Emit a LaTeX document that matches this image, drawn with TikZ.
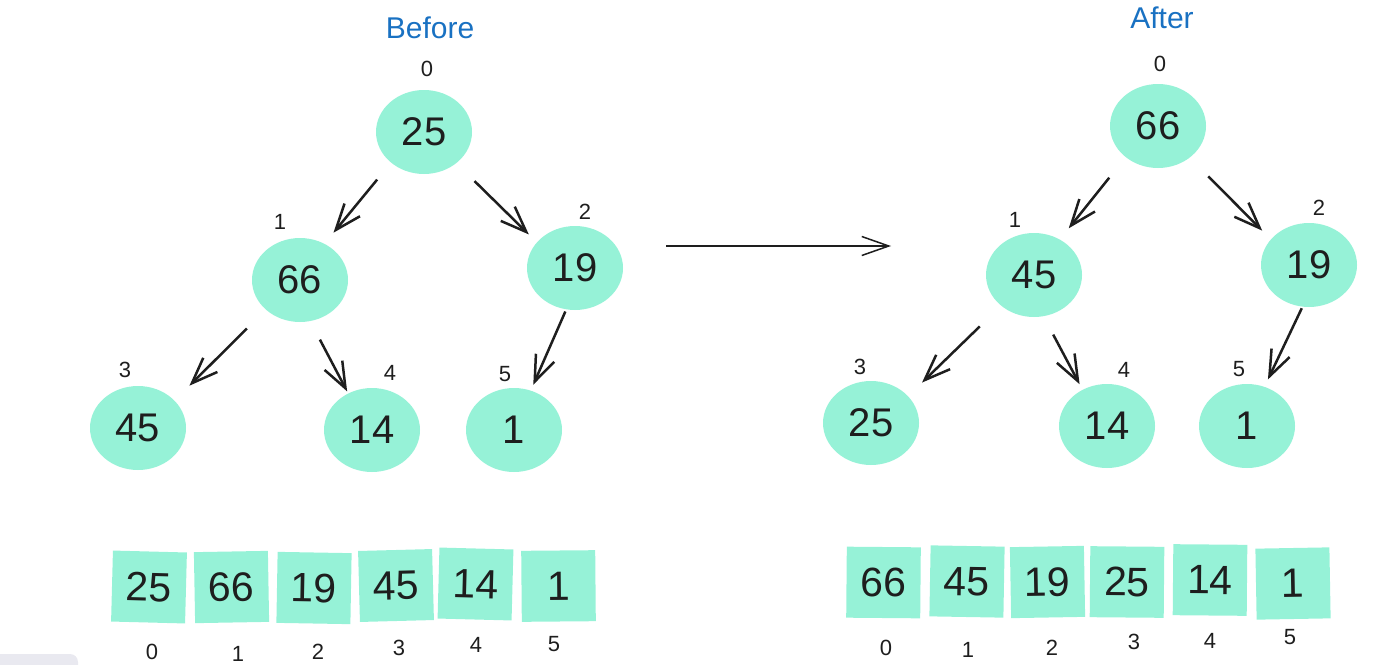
\documentclass[tikz,border=0pt]{standalone}
\usepackage{fontspec}
\setmainfont{Liberation Sans}
\usetikzlibrary{positioning}
\usetikzlibrary{arrows.meta}
\usetikzlibrary{shapes.geometric}
\definecolor{mint}{HTML}{96F2D7}
\definecolor{titleblue}{HTML}{1971C2}
\definecolor{inkline}{HTML}{1E1E1E}
\definecolor{chipgrey}{HTML}{E9E9F0}

\tikzset{
  circ/.style={ellipse, fill=mint, minimum width=48pt, minimum height=42pt, inner sep=0pt, font=\fontsize{20}{20}\selectfont, text=inkline},
  cell/.style={rectangle, fill=mint, minimum width=37pt, minimum height=35.5pt, inner sep=0pt, font=\fontsize{20.5}{20.5}\selectfont, text=inkline},
  idx/.style={inner sep=0.75pt, font=\fontsize{11}{11}\selectfont, text=inkline},
  heading/.style={inner sep=0.75pt, font=\fontsize{15}{15}\selectfont, text=titleblue},
  edge/.style={draw=inkline, line width=1.25pt, -{Straight Barb[length=13pt,width=10pt]}},
  bigarrow/.style={draw=inkline, line width=0.75pt, -{Straight Barb[length=13.5pt,width=9.5pt]}}
}

\begin{document}
\begin{tikzpicture}[x=0.5pt,y=-0.5pt]
\useasboundingbox (0,0) rectangle (1400,664);

%Shape: Rounded chip in the corner
\fill[chipgrey, rounded corners=4pt] (-20,654) rectangle (78,690);

% Text Node
\node[heading] (tBefore) at (430,28) {Before};
\node[heading] (tAfter) at (1162,18) {After};

%Shape: Circle (tree before)
\node[circ] (L0) at (424,132) {25};
\node[circ] (L1) at (300,280) {66};
\node[circ] (L2) at (575,268) {19};
\node[circ] (L3) at (138,428) {45};
\node[circ] (L4) at (372,430) {14};
\node[circ] (L5) at (514,430) {1};

%Shape: Circle (tree after)
\node[circ] (R0) at (1158,126) {66};
\node[circ] (R1) at (1034,275) {45};
\node[circ] (R2) at (1309,265) {19};
\node[circ] (R3) at (871,423) {25};
\node[circ] (R4) at (1107,426) {14};
\node[circ] (R5) at (1247,426) {1};

% Text Node (indices over the nodes)
\node[idx] (iL0) at (427,69) {0};
\node[idx] (iL1) at (280,222) {1};
\node[idx] (iL2) at (585,212) {2};
\node[idx] (iL3) at (125,370) {3};
\node[idx] (iL4) at (390,373) {4};
\node[idx] (iL5) at (505,374) {5};
\node[idx] (iR0) at (1160,64) {0};
\node[idx] (iR1) at (1015,220) {1};
\node[idx] (iR2) at (1319,208) {2};
\node[idx] (iR3) at (860,367) {3};
\node[idx] (iR4) at (1124,370) {4};
\node[idx] (iR5) at (1239,369) {5};

%Straight Lines (tree before)
\draw[edge, shorten <=10.8pt, shorten >=7pt] (L0.223) -- (L1.56);
\draw[edge, shorten <=12.6pt, shorten >=5.5pt] (L0.316) -- (L2.146);
\draw[edge, shorten <=13.2pt, shorten >=10.4pt] (L1.221) -- (L3.37);
\draw[edge, shorten <=10.3pt, shorten >=1pt] (L1.284) -- (L4.123);
\draw[edge, shorten <=1pt, shorten >=3pt] (L2.258) -- (L5.67);

%Straight Lines (tree after)
\draw[edge, shorten <=13pt, shorten >=7pt] (R0.224) -- (R1.54);
\draw[edge, shorten <=13pt, shorten >=6pt] (R0.315) -- (R2.146);
\draw[edge, shorten <=14.7pt, shorten >=9.6pt] (R1.223) -- (R3.36);
\draw[edge, shorten <=10.2pt, shorten >=3pt] (R1.283) -- (R4.124);
\draw[edge, shorten <=0.7pt, shorten >=3.9pt] (R2.261) -- (R5.66);

%Straight Lines (before -> after)
\coordinate (goFrom) at (666,246);
\coordinate (goTo) at (891,246);
\draw[bigarrow] (goFrom) -- (goTo);

%Shape: Square (array before)
\node[cell, rotate=-1.5] (a0) at (149,587) {25};
\node[cell, rotate=1] (a1) at (231.5,587) {66};
\node[cell, rotate=-1] (a2) at (314,588) {19};
\node[cell, rotate=1.5] (a3) at (396,585.5) {45};
\node[cell, rotate=-1.5] (a4) at (475.5,584) {14};
\node[cell, rotate=0.5] (a5) at (558.5,586) {1};

%Shape: Square (array after)
\node[cell, rotate=-0.5] (b0) at (883.5,582.5) {66};
\node[cell, rotate=-1] (b1) at (967,581.5) {45};
\node[cell, rotate=1] (b2) at (1047.5,582) {19};
\node[cell, rotate=-0.5] (b3) at (1127,582) {25};
\node[cell, rotate=-0.5] (b4) at (1210,580) {14};
\node[cell, rotate=1] (b5) at (1293,583.5) {1};

% Text Node (indices under the arrays)
\node[idx] (ja0) at (152,652) {0};
\node[idx] (ja1) at (238,654) {1};
\node[idx] (ja2) at (318,652) {2};
\node[idx] (ja3) at (399,648) {3};
\node[idx] (ja4) at (476,645) {4};
\node[idx] (ja5) at (554,644) {5};
\node[idx] (jb0) at (886,648) {0};
\node[idx] (jb1) at (968,650) {1};
\node[idx] (jb2) at (1052,648) {2};
\node[idx] (jb3) at (1134,642) {3};
\node[idx] (jb4) at (1210,641) {4};
\node[idx] (jb5) at (1290,637) {5};

\end{tikzpicture}
\end{document}
